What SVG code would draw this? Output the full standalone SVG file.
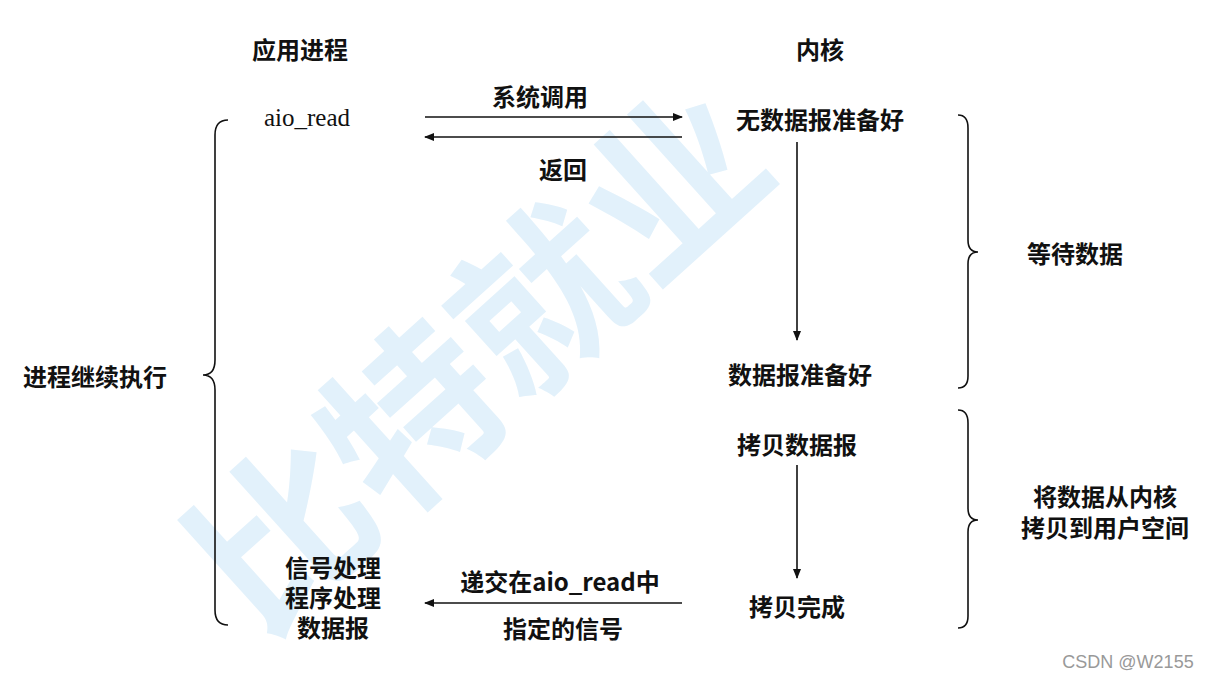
<svg xmlns="http://www.w3.org/2000/svg" width="1213" height="682" viewBox="0 0 1213 682">
<style>
text{font-family:"Noto Sans CJK SC","Liberation Serif",serif;fill:#111;font-size:24px;font-weight:bold;text-anchor:middle;dominant-baseline:central}
.s{font-family:"Liberation Serif","Noto Sans CJK SC",serif;font-weight:normal;font-size:25px}
.ln{stroke:#111;stroke-width:1.6;fill:none}
.wm{fill:#e2f1fb;font-size:175px;font-weight:bold}
</style>
<defs><marker id="a" markerWidth="10" markerHeight="8" refX="9" refY="4" orient="auto" markerUnits="userSpaceOnUse"><path d="M0,0L10,4L0,8z" fill="#111"/></marker></defs>
<rect width="1213" height="682" fill="#fff"/>
<text class="wm" transform="translate(470,350) rotate(-42)">比特就业</text>
<g id="connectors">
<line class="ln" x1="425" y1="117" x2="682" y2="117" marker-end="url(#a)"/>
<line class="ln" x1="682" y1="137" x2="425" y2="137" marker-end="url(#a)"/>
<line class="ln" x1="797" y1="142" x2="797" y2="340" marker-end="url(#a)"/>
<line class="ln" x1="797" y1="465" x2="797" y2="578" marker-end="url(#a)"/>
<line class="ln" x1="682" y1="603" x2="425" y2="603" marker-end="url(#a)"/>
<path class="ln" d="M228,120 Q215,120 215,135 V360 Q215,375 203,375 Q215,375 215,390 V610 Q215,625 228,625"/>
<path class="ln" d="M958,115 Q968,115 968,128 V240 Q968,252 978,252 Q968,252 968,264 V376 Q968,388 958,388"/>
<path class="ln" d="M958,410 Q968,410 968,423 V508 Q968,520 978,520 Q968,520 968,532 V616 Q968,628 958,628"/>
</g>
<g id="titles"><text x="300" y="48">应用进程</text><text x="820" y="48">内核</text></g>
<g id="aio"><text class="s" x="307" y="117">aio_read</text></g>
<g id="syscall"><text x="540" y="95">系统调用</text><text x="563" y="168">返回</text></g>
<g id="k1"><text x="820" y="118">无数据报准备好</text></g>
<g id="k2"><text x="800" y="373">数据报准备好</text></g>
<g id="k3"><text x="797" y="443">拷贝数据报</text></g>
<g id="k4"><text x="797" y="605">拷贝完成</text></g>
<g id="sig"><text x="560" y="580">递交在aio_read中</text><text x="563" y="627">指定的信号</text></g>
<g id="handler"><text x="333" y="566">信号处理</text><text x="333" y="596">程序处理</text><text x="333" y="626">数据报</text></g>
<g id="cont"><text x="95" y="375">进程继续执行</text></g>
<g id="wait"><text x="1075" y="252">等待数据</text></g>
<g id="copy"><text x="1105" y="495">将数据从内核</text><text x="1105" y="526">拷贝到用户空间</text></g>
<text x="1128" y="662" style="font-family:'Liberation Sans',sans-serif;font-size:18px;font-weight:normal;fill:#999">CSDN @W2155</text>
</svg>
